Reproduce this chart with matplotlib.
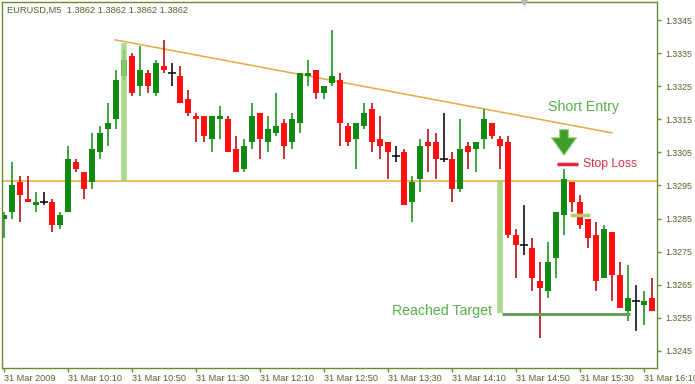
import matplotlib.pyplot as plt
from matplotlib.lines import Line2D

plt.rcParams['font.family'] = ['Liberation Sans', 'DejaVu Sans']

# EURUSD M5 bars, 31 Mar 2009, 09:30 .. 16:15
opens = [1.3285, 1.3287, 1.3296, 1.3291, 1.3289, 1.3290, 1.3290, 1.3283, 1.3287, 1.3302,
         1.3299, 1.3296, 1.3305, 1.3312, 1.3315, 1.3328, 1.3334, 1.3325, 1.3329, 1.3323,
         1.3331, 1.3329, 1.3328, 1.3321, 1.3316, 1.3316, 1.3309, 1.3315, 1.3315, 1.3306,
         1.3300, 1.3308, 1.3317, 1.3308, 1.3311, 1.3314, 1.3308, 1.3314, 1.3328, 1.3330,
         1.3323, 1.3326, 1.3327, 1.3313, 1.3309, 1.3313, 1.3318, 1.3309, 1.3308, 1.3304,
         1.3305, 1.3290, 1.3297, 1.3308, 1.3308, 1.3303, 1.3303, 1.3294, 1.3307, 1.3306,
         1.3309, 1.3314, 1.3309, 1.3308, 1.3280, 1.3277, 1.3276, 1.3266, 1.3263, 1.3273,
         1.3286, 1.3296, 1.3290, 1.3285, 1.3280, 1.3267, 1.3281, 1.3268, 1.3257, 1.3260,
         1.3259, 1.3261]
highs = [1.3287, 1.3302, 1.3298, 1.3298, 1.3293, 1.3293, 1.3291, 1.3287, 1.3307, 1.3303,
         1.3299, 1.3311, 1.3313, 1.3320, 1.3330, 1.3336, 1.3335, 1.3337, 1.3330, 1.3333,
         1.3339, 1.3332, 1.3331, 1.3324, 1.3317, 1.3316, 1.3316, 1.3319, 1.3316, 1.3310,
         1.3309, 1.3320, 1.3317, 1.3316, 1.3323, 1.3315, 1.3317, 1.3329, 1.3333, 1.3330,
         1.3325, 1.3342, 1.3329, 1.3314, 1.3314, 1.3320, 1.3320, 1.3316, 1.3308, 1.3307,
         1.3306, 1.3298, 1.3309, 1.3312, 1.3311, 1.3317, 1.3305, 1.3315, 1.3308, 1.3308,
         1.3318, 1.3314, 1.3310, 1.3310, 1.3282, 1.3289, 1.3279, 1.3272, 1.3278, 1.3287,
         1.3300, 1.3296, 1.3292, 1.3285, 1.3284, 1.3283, 1.3281, 1.3272, 1.3271, 1.3265,
         1.3263, 1.3267]
lows = [1.3279, 1.3285, 1.3284, 1.3290, 1.3287, 1.3289, 1.3281, 1.3282, 1.3287, 1.3299,
        1.3291, 1.3294, 1.3303, 1.3307, 1.3312, 1.3327, 1.3322, 1.3322, 1.3323, 1.3322,
        1.3329, 1.3325, 1.3320, 1.3316, 1.3308, 1.3308, 1.3305, 1.3309, 1.3305, 1.3299,
        1.3299, 1.3306, 1.3303, 1.3305, 1.3310, 1.3303, 1.3306, 1.3311, 1.3325, 1.3321,
        1.3321, 1.3325, 1.3307, 1.3307, 1.3300, 1.3312, 1.3305, 1.3303, 1.3297, 1.3302,
        1.3289, 1.3284, 1.3293, 1.3299, 1.3297, 1.3302, 1.3290, 1.3293, 1.3300, 1.3299,
        1.3306, 1.3309, 1.3300, 1.3279, 1.3267, 1.3274, 1.3263, 1.3249, 1.3261, 1.3267,
        1.3280, 1.3287, 1.3282, 1.3276, 1.3263, 1.3267, 1.3260, 1.3258, 1.3254, 1.3251,
        1.3253, 1.3257]
closes = [1.3286, 1.3295, 1.3292, 1.3290, 1.3290, 1.3290, 1.3283, 1.3286, 1.3303, 1.3300,
          1.3294, 1.3306, 1.3311, 1.3314, 1.3327, 1.3333, 1.3323, 1.3330, 1.3325, 1.3332,
          1.3330, 1.3329, 1.3320, 1.3317, 1.3315, 1.3310, 1.3316, 1.3316, 1.3305, 1.3299,
          1.3307, 1.3316, 1.3309, 1.3312, 1.3313, 1.3307, 1.3315, 1.3329, 1.3329, 1.3323,
          1.3325, 1.3328, 1.3314, 1.3308, 1.3314, 1.3317, 1.3308, 1.3307, 1.3305, 1.3304,
          1.3289, 1.3296, 1.3307, 1.3307, 1.3303, 1.3303, 1.3294, 1.3306, 1.3305, 1.3308,
          1.3315, 1.3310, 1.3307, 1.3280, 1.3277, 1.3277, 1.3267, 1.3264, 1.3272, 1.3287,
          1.3297, 1.3290, 1.3283, 1.3279, 1.3266, 1.3282, 1.3268, 1.3258, 1.3261, 1.3260,
          1.3260, 1.3257]

time_labels = ['31 Mar 2009', '31 Mar 10:10', '31 Mar 10:50', '31 Mar 11:30', '31 Mar 12:10',
               '31 Mar 12:50', '31 Mar 13:30', '31 Mar 14:10', '31 Mar 14:50', '31 Mar 15:30',
               '31 Mar 16:10']
price_ticks = [1.3345, 1.3335, 1.3325, 1.3315, 1.3305, 1.3295, 1.3285, 1.3275, 1.3265, 1.3255, 1.3245]

# annotations
support = 1.32965
trend_x = [13.9, 76.0]
trend_y = [1.3339, 1.33109]
pattern_bar = (15, 1.33381, support)     # height of the triangle
projection_bar = (62, support, 1.32565)  # same height from the breakout
target = 1.32562
target_x = [62.3, 78.3]
entry_idx = 70
arrow_y = (1.33127, 1.33033)
stop_loss = 1.33015
stop_x = [69.1, 71.75]
mark_level = 1.32861
mark_x = [70.75, 73.25]

GREEN = '#118a11'
RED = '#ff1010'
OLIVE = '#4f6228'
BORDER = '#6b8a30'

fig = plt.figure(figsize=(6.95, 3.84), dpi=100)
ax = fig.add_axes([2 / 695, 16 / 384, 655 / 695, 366 / 384])

# support + trendline
ax.axhline(support, color='#eaa830', lw=1.1, zorder=1)
ax.plot(trend_x, trend_y, color='#e6a840', lw=1.1, zorder=1)

# measuring bars
ax.vlines(pattern_bar[0], pattern_bar[2], pattern_bar[1], color='#9ad27a', lw=4, alpha=0.85, zorder=3)
ax.vlines(projection_bar[0], projection_bar[2], projection_bar[1], color='#9ad27a', lw=4, alpha=0.85, zorder=3)
ax.hlines(target, target_x[0], target_x[1], color='#6f9a55', lw=2.2, zorder=3)

# candles
for i in range(len(opens)):
    o, h, l, c = opens[i], highs[i], lows[i], closes[i]
    if c > o:
        ax.vlines(i, l, h, color=GREEN, lw=1.1, zorder=2)
        ax.bar(i, c - o, bottom=o, width=0.66, color=GREEN, zorder=2)
    elif c < o:
        ax.vlines(i, l, h, color='#b00000', lw=1.1, zorder=2)
        ax.bar(i, o - c, bottom=c, width=0.66, color=RED, zorder=2)
    else:
        ax.vlines(i, l, h, color='black', lw=1.1, zorder=2)
        ax.hlines(c, i - 0.45, i + 0.45, color='black', lw=1.1, zorder=2)

# trade markers
ax.hlines(mark_level, mark_x[0], mark_x[1], color='#b4c870', lw=2.5, zorder=4)
ax.hlines(stop_loss, stop_x[0], stop_x[1], color='#e8203a', lw=2.5, zorder=4)
ax.annotate('', xy=(entry_idx, arrow_y[1]), xytext=(entry_idx, arrow_y[0]),
            arrowprops=dict(arrowstyle='simple,head_length=0.7,head_width=1.0,tail_width=0.35',
                            fc='#3d9e2a', ec='#9ad27a', lw=0.8, mutation_scale=18), zorder=5)
ax.text(68, 1.33187, 'Short Entry', color='#55b04a', fontsize=10.2, va='center', ha='left')
ax.text(stop_x[1] + 0.6, stop_loss, 'Stop Loss', color='#d8304a', fontsize=8.7, va='center', ha='left')
ax.text(61.0, 1.32571, 'Reached Target', color='#55b04a', fontsize=10.2, va='center', ha='right')

ax.set_xlim(-0.25, 81.625)
ax.set_ylim(1.323986, 1.335044)

ax.yaxis.tick_right()
ax.set_yticks(price_ticks)
ax.set_yticklabels(['%.4f' % p for p in price_ticks])
ax.set_xticks(range(0, len(opens), 8))
ax.set_xticklabels(time_labels, ha='left')
ax.tick_params(axis='y', colors=BORDER, labelcolor=OLIVE, length=3, width=1, pad=3, labelsize=6.3)
ax.tick_params(axis='x', colors=BORDER, labelcolor=OLIVE, length=3, width=1, pad=1.5, labelsize=6.6)
for s in ax.spines.values():
    s.set_color(BORDER)
    s.set_linewidth(1)

fig.text(7 / 695, 1 - 10.5 / 384, 'EURUSD,M5  1.3862 1.3862 1.3862 1.3862', color=OLIVE,
         fontsize=6.7, va='center', ha='left')
fig.add_artist(Line2D([524 / 695], [1 - 2 / 384], marker='v', ms=5, color='#b8b8b8', lw=0))

fig.savefig('out.png', dpi=100)
